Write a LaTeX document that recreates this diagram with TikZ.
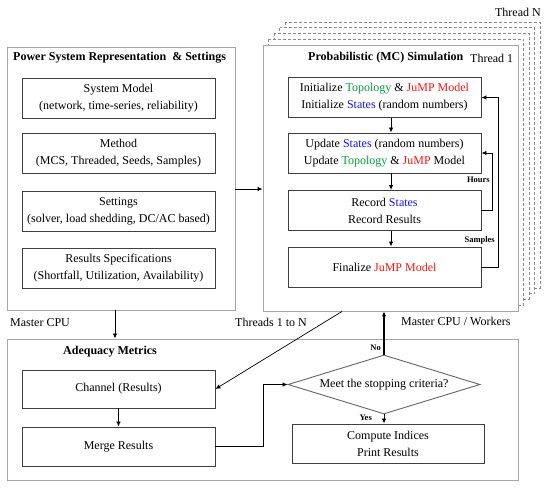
\documentclass[tikz,border=0pt]{standalone}
\usepackage{fontspec}
\setmainfont{Liberation Serif}
\usetikzlibrary{shapes.geometric,arrows.meta}

\definecolor{topo}{RGB}{0,160,60}
\definecolor{stat}{RGB}{20,20,255}
\definecolor{jump}{RGB}{255,20,20}

\tikzset{
  panel/.style={draw=black!35, line width=0.9pt, inner sep=0pt, fill=white},
  threadbox/.style={draw=black!45, densely dashed, line width=0.6pt, fill=white},
  stepbox/.style={draw=black!75, line width=0.9pt, minimum width=193pt, minimum height=40pt,
    inner sep=1pt, align=center, font=\fontsize{12}{17}\selectfont},
  title/.style={font=\bfseries\fontsize{12}{14}\selectfont, anchor=west, inner sep=0pt},
  lbl/.style={font=\fontsize{12}{14}\selectfont, anchor=west, inner sep=0pt},
  tiny/.style={font=\bfseries\fontsize{8.5}{10}\selectfont, inner sep=0pt},
  flow/.style={-{Latex[length=5pt,width=4.5pt]}, line width=0.9pt},
}

\begin{document}
\begin{tikzpicture}[x=1pt,y=-1pt]
\useasboundingbox (0,0) rectangle (550,489);

% thread copies behind thread 1
\foreach \k in {4,3,2,1} {
  \draw[threadbox] (263+5.5*\k,45-5.75*\k) rectangle (518+5.5*\k,311-5.75*\k);
}
\node[lbl, anchor=east] (thn) at (541,12) {Thread N};

% panels
\node[panel, minimum width=228pt, minimum height=263pt] (rep) at (121,178.5) {};
\node[panel, minimum width=255pt, minimum height=266pt] (sim) at (390.5,178) {};
\node[panel, minimum width=511pt, minimum height=141pt] (adq) at (262.5,409.5) {};

\node[title] (reptitle) at (13,58) {Power System Representation\ \ \& Settings};
\node[title] (simtitle) at (308,58) {Probabilistic (MC) Simulation};
\node[lbl] (th1) at (470,58) {Thread 1};
\node[title] (adqtitle) at (63,352) {Adequacy Metrics};

% settings boxes
\node[stepbox] (sysm) at (118.5,98) {System Model\\(network, time-series, reliability)};
\node[stepbox] (meth) at (118.5,153) {Method\\(MCS, Threaded, Seeds, Samples)};
\node[stepbox] (sett) at (118.5,211) {Settings\\(solver, load shedding, DC/AC based)};
\node[stepbox] (spec) at (118.5,268) {Results Specifications\\(Shortfall, Utilization, Availability)};

% simulation boxes
\node[stepbox] (init) at (384.5,97.5) {Initialize \textcolor{topo}{Topology} \& \textcolor{jump}{JuMP Model}\\Initialize \textcolor{stat}{States} (random numbers)};
\node[stepbox] (upd) at (384.5,153) {Update \textcolor{stat}{States} (random numbers)\\Update \textcolor{topo}{Topology} \& \textcolor{jump}{JuMP} Model};
\node[stepbox] (rec) at (384.5,210.5) {Record \textcolor{stat}{States}\\Record Results};
\node[stepbox] (fin) at (384.5,267) {Finalize \textcolor{jump}{JuMP Model}};

% metrics boxes
\node[stepbox, minimum height=38pt] (chan) at (118.5,389) {Channel (Results)};
\node[stepbox, minimum height=39pt] (merge) at (118.5,446.5) {Merge Results};
\node[diamond, draw=black!60, line width=0.9pt, aspect=3.25, inner sep=0pt,
  minimum width=192pt, minimum height=59pt, font=\fontsize{12}{14}\selectfont] (crit) at (384,384.5) {Meet the stopping criteria?};
\node[stepbox, minimum width=192pt, minimum height=39pt] (comp) at (388,443.5) {Compute Indices\\Print Results};

% labels between panels
\node[lbl] (mcpu) at (10,323) {Master CPU};
\node[lbl] (thr) at (235,322) {Threads 1 to N};
\node[lbl] (work) at (401,321) {Master CPU / Workers};

% connectors
\draw[flow] ([yshift=-10.5pt]rep.east) -- ([yshift=-10.5pt]rep.east -| sim.west);
\draw[flow] ([xshift=-6pt]rep.south) -- ([xshift=-6pt]rep.south |- adq.north);
\draw[flow] ([xshift=6.5pt]init.south) -- ([xshift=6.5pt]upd.north);
\draw[flow] ([xshift=6.5pt]upd.south) -- ([xshift=6.5pt]rec.north);
\draw[flow] ([xshift=6.5pt]rec.south) -- ([xshift=6.5pt]fin.north);
\draw[flow] (rec.east) -- ++(11,0) |- (upd.east);
\draw[flow] (fin.east) -- ++(17,0) |- (init.east);
\node[tiny, anchor=east] (hrs) at (490,180) {Hours};
\node[tiny, anchor=east] (smp) at (495,240) {Samples};
\draw[flow, line width=0.7pt] ([xshift=-48.5pt]sim.south) -- (chan.east);
\draw[flow] (chan.south) -- (merge.north);
\draw[flow] (merge.east) -- ++(48,0) |- (crit.west);
\draw[flow, line width=1.2pt] (crit.north) -- (crit.north |- sim.south);
\node[tiny, anchor=east] (no) at (381,348) {No};
\draw[flow] (crit.south) -- (crit.south |- comp.north);
\node[tiny, anchor=east] (yes) at (372,418) {Yes};
\end{tikzpicture}
\end{document}
